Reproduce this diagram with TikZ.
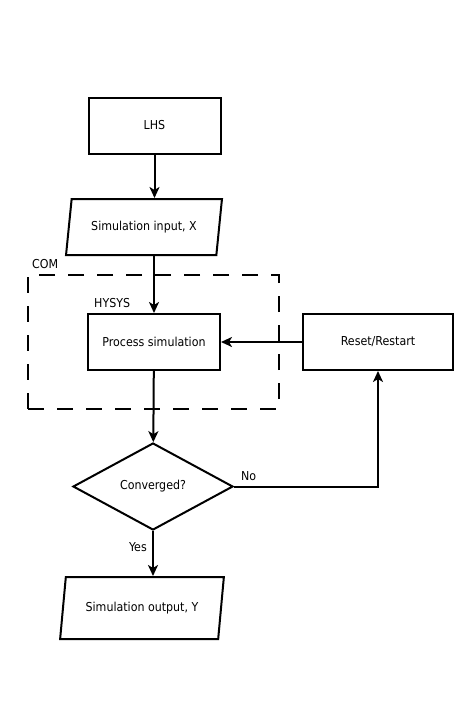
\documentclass[tikz,border=0pt]{standalone}
\usepackage{fontspec}
\setmainfont{DejaVu Sans Condensed}
\usetikzlibrary{shapes.geometric, arrows.meta, positioning}
\tikzstyle{process} = [rectangle, draw, line width=2pt, minimum width=132pt, minimum height=56pt, inner sep=0pt]
\tikzstyle{io} = [trapezium, draw, line width=2pt, trapezium left angle=71, trapezium right angle=109, trapezium stretches=true, inner sep=0pt]
\tikzstyle{decision} = [diamond, draw, line width=2pt, minimum width=160pt, minimum height=87pt, inner sep=0pt]
\tikzstyle{frame} = [draw, line width=2pt, dash pattern=on 16pt off 13pt, minimum width=251pt, minimum height=134pt]
\tikzstyle{tag} = [inner sep=1pt]
\tikzstyle{arrow} = [line width=2pt, -{Stealth[length=11pt, width=10pt, inset=3pt]}]

\begin{document}
\begin{tikzpicture}[x=1pt, y=-1pt, font=\fontsize{12.3}{15}\selectfont]
\useasboundingbox (0,0) rectangle (474,716);

% blocks
\node[frame] (com) at (153.5,342) {};
\node[process] (lhs) at (154.5,125.5) {LHS};
\node[io, minimum width=156pt, minimum height=56pt] (input) at (144,227) {Simulation input, X};
\node[process] (sim) at (154,342) {Process simulation};
\node[process, minimum width=150pt] (reset) at (378,342) {Reset/Restart};
\node[decision] (conv) at (153,486.5) {Converged?};
\node[io, minimum width=164pt, minimum height=62pt, trapezium left angle=70.5, trapezium right angle=109.5] (output) at (142,608) {Simulation output, Y};

% labels
\node[tag, above right=4pt and 4pt of com.north west] (comlabel) {COM};
\node[tag, above right=4pt and 6pt of sim.north west] (hysys) {HYSYS};
\node[tag, above right=5pt and 6pt of conv.east] (no) {No};
\node[tag, below left=10pt and 5pt of conv.south] (yes) {Yes};

% connectors
\draw[arrow] (lhs.south) -- (lhs.south |- input.north);
\draw[arrow] (sim.north |- input.south) -- (sim.north);
\draw[arrow] (reset) -- (sim);
\draw[arrow] (sim) -- (conv);
\draw[arrow] (conv) -| (reset);
\draw[arrow] (conv) -- (conv |- output.north);
\end{tikzpicture}
\end{document}
